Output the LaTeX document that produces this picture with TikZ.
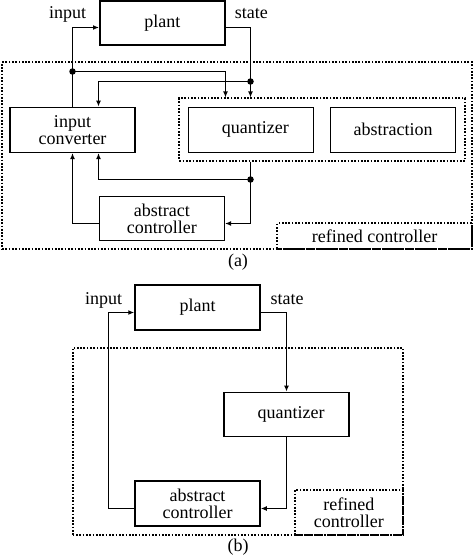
\documentclass[tikz,border=0pt]{standalone}
\usepackage{fontspec}
\setmainfont{Liberation Serif}
\usetikzlibrary{arrows.meta,calc}
\begin{document}
\begin{tikzpicture}[x=1pt,y=-1pt,
  txt/.style={font=\fontsize{18}{16.7}\selectfont},
  box/.style={draw,txt,line width=1.5pt,minimum width=125pt,minimum height=45pt,inner sep=0pt,align=center},
  grp/.style={draw,txt,line width=1.7pt,dash pattern=on 1.7pt off 1.6pt,inner sep=0pt,align=center},
  conn/.style={line width=1.5pt},
  arr/.style={conn,-{Latex[length=6pt,width=5pt]}},
  lbl/.style={txt,inner sep=0pt,anchor=base},
  jdot/.style={circle,fill,inner sep=0pt,minimum size=6.5pt}]
\useasboundingbox (0,0) rectangle (474,557);

% ---------- (a) ----------
\node[grp,minimum width=470pt,minimum height=187pt] (outA) at (237,155.8) {};
\node[grp,minimum width=285.7pt,minimum height=62.4pt] (grpA) at (322.15,129.5) {};
\node[grp,minimum width=194.7pt,minimum height=26pt] (refA) at (374.65,236.3) {refined controller};

\node[box,minimum height=44pt] (plantA) at (162.25,23) {plant};
\node[box] (inconv) at (72.5,129.8) {input\\converter};
\node[box] (quantA) at (250.8,129.8) {\hspace*{9pt}quantizer};
\node[box] (abstr) at (393.2,129.8) {abstraction};
\node[box,minimum height=44pt] (absctrlA) at (161.8,218.5) {abstract\\controller};

\node[lbl] (inA) at (67.7,18.3) {input};
\node[lbl] (stA) at (251.3,18.3) {state};

\node[jdot] (d1) at (72.5,71.5) {};
\node[jdot] (d2) at (250.5,81.5) {};
\node[jdot] (d3) at (250.5,179.5) {};

\draw[arr] (inconv.north) |- ($(plantA.west)+(0,4.5)$);
\draw[arr] ($(plantA.east)+(0,4.5)$) -| (d2 |- grpA.north);
\draw[arr] (d1.center) -| (plantA.east |- grpA.north);
\draw[arr] (d2.center) -| ($(inconv.north)+(26,0)$);
\draw[arr] (d2 |- grpA.south) |- ($(absctrlA.east)+(0,5)$);
\draw[arr] (d3.center) -| ($(inconv.south)+(26,0)$);
\draw[arr] ($(absctrlA.west)+(0,5)$) -| (inconv.south);

\node[lbl] (capA) at (238,266) {(a)};

% ---------- (b) ----------
\node[grp,minimum width=330pt,minimum height=187.3pt] (outB) at (237.7,441.35) {};
\node[grp,minimum width=107.7pt,minimum height=45pt] (refB) at (348.85,512.5) {refined\\controller};

\node[box] (plantB) at (197.5,307.5) {plant};
\node[box,minimum height=44.4pt] (quantB) at (286.5,414.5) {\hspace*{9pt}quantizer};
\node[box,minimum height=44.7pt] (absctrlB) at (197.5,503.5) {abstract\\controller};

\node[lbl] (inB) at (103.7,304) {input};
\node[lbl] (stB) at (287,304) {state};

\draw[arr] ($(plantB.east)+(0,5)$) -| (quantB.north);
\draw[arr] (quantB.south) |- ($(absctrlB.east)+(0,5)$);
\draw[arr] ($(absctrlB.west)+(0,5)$) -- ++(-26,0) |- ($(plantB.west)+(0,5)$);

\node[lbl] (capB) at (238,551) {(b)};
\end{tikzpicture}
\end{document}
